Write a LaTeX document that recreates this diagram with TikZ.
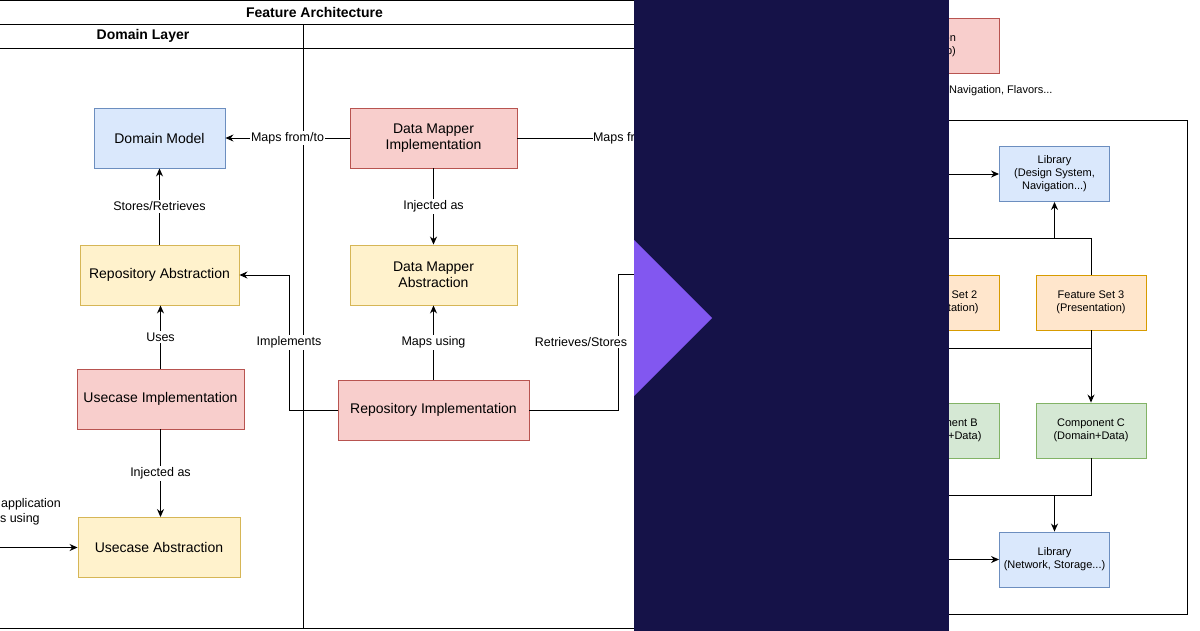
\documentclass[tikz,border=0pt]{standalone}
\usepackage{fontspec}
\setmainfont{Liberation Sans}
\usetikzlibrary{arrows.meta}
\definecolor{bfill}{HTML}{DAE8FC}\definecolor{bdraw}{HTML}{6C8EBF}
\definecolor{rfill}{HTML}{F8CECC}\definecolor{rdraw}{HTML}{B85450}
\definecolor{yfill}{HTML}{FFF2CC}\definecolor{ydraw}{HTML}{D6B656}
\definecolor{ofill}{HTML}{FFE6CC}\definecolor{odraw}{HTML}{D79B00}
\definecolor{gfill}{HTML}{D5E8D4}\definecolor{gdraw}{HTML}{82B366}
\definecolor{navy}{HTML}{151248}
\definecolor{violet}{HTML}{8257F0}
\tikzset{
  box/.style={draw, line width=0.9pt, inner sep=0pt, align=center, font=\fontsize{14}{16}\selectfont},
  sbox/.style={draw, line width=0.9pt, inner sep=0pt, align=center, minimum width=110pt, minimum height=55pt, font=\fontsize{11}{13}\selectfont},
  bluebox/.style={fill=bfill, draw=bdraw},
  redbox/.style={fill=rfill, draw=rdraw},
  yelbox/.style={fill=yfill, draw=ydraw},
  orabox/.style={fill=ofill, draw=odraw},
  grnbox/.style={fill=gfill, draw=gdraw},
  lbl/.style={fill=white, inner sep=1.5pt, font=\fontsize{12.5}{15}\selectfont},
  conn/.style={line width=1pt},
  arr/.style={line width=1pt, -{Stealth[length=8pt,width=7pt]}},
  frame/.style={line width=1pt},
  hdr/.style={font=\bfseries\fontsize{14}{16}\selectfont},
}
\begin{document}
\begin{tikzpicture}[x=1pt,y=-1pt]
\useasboundingbox (0,0) rectangle (1200,630);
\fill[white] (0,0) rectangle (1200,630);

% ---------- left panel ----------
\draw[frame] (0,0.5) -- (634,0.5);
\draw[frame] (0,24) -- (634,24);
\draw[frame] (0,48) -- (634,48);
\draw[frame] (303,24) -- (303,628);
\draw[frame] (0,628) -- (634,628);
\node[hdr] (title) at (314.5,12) {Feature Architecture};
\node[hdr] (lane) at (143,36) {Domain Layer};

\node[box,bluebox,minimum width=131pt,minimum height=60pt] (dm) at (159.5,138) {Domain Model};
\node[box,redbox,minimum width=167pt,minimum height=60pt] (dmi) at (433.5,138) {Data Mapper\\Implementation};
\node[box,yelbox,minimum width=159pt,minimum height=60pt] (ra) at (159.5,275) {Repository Abstraction};
\node[box,yelbox,minimum width=167pt,minimum height=60pt] (dma) at (433.5,275) {Data Mapper\\Abstraction};
\node[box,redbox,minimum width=167pt,minimum height=60pt] (ui) at (160.5,399) {Usecase Implementation};
\node[box,redbox,minimum width=191pt,minimum height=60pt] (ri) at (433.5,410) {Repository Implementation};
\node[box,yelbox,minimum width=162pt,minimum height=60pt] (ua) at (159,547.5) {Usecase Abstraction};

\draw[arr] (dmi.west) -- node[lbl] (l1) {Maps from/to} (dm.east);
\coordinate (mapsout) at (640,138);
\draw[conn] (dmi.east) -- (mapsout);
\node[lbl,anchor=west,inner sep=0pt,outer sep=0pt] (l2) at (593,138) {Maps from/to};
\draw[arr] (dmi.south) -- node[lbl] (l3) {Injected as} (dma.north);
\draw[arr] (ri.north) -- node[lbl] (l4) {Maps using} (dma.south);
\coordinate (impl) at (289,410);
\draw[arr] (ri.west) -- (impl) |- node[lbl,pos=0.25] (l5) {Implements} (ra.east);
\coordinate (rs1) at (618,410);
\coordinate (rs2) at (618,274);
\coordinate (rs3) at (640,274);
\draw[conn] (ri.east) -- (rs1) -- (rs2) -- (rs3);
\node[lbl] (l6) at (581,342) {Retrieves/Stores};
\draw[arr] (ra.north) -- node[lbl] (l7) {Stores/Retrieves} (ra.north |- dm.south);
\draw[arr] (ui.north) -- node[lbl] (l8) {Uses} (ui.north |- ra.south);
\draw[arr] (ui.south) -- node[lbl] (l9) {Injected as} (ui.south |- ua.north);
\coordinate (appin) at (-5,547.5);
\draw[arr] (appin) -- (ua.west);
\node[align=center,font=\fontsize{12.5}{15}\selectfont] (l10) at (18.5,511.5) {The application\\is using};

% ---------- right panel ----------
\node[sbox,redbox,minimum width=140pt] (app) at (929,45.5) {Application\\(Main App)};
\node[anchor=east,font=\fontsize{11}{13}\selectfont] (note) at (1056,91) {DI, Root Navigation, Flavors...};
\draw[frame] (850,120) -- (1187,120) -- (1187,614) -- (850,614);

\node[sbox,bluebox] (lib1) at (1054.5,174) {Library\\(Design System,\\Navigation...)};
\node[sbox,orabox] (fs2) at (944,302.5) {Feature Set 2\\(Presentation)};
\node[sbox,orabox] (fs3) at (1091,302.5) {Feature Set 3\\(Presentation)};
\node[sbox,grnbox] (cb) at (944,430.5) {Component B\\(Domain+Data)};
\node[sbox,grnbox] (cc) at (1091,430.5) {Component C\\(Domain+Data)};
\node[sbox,bluebox] (lib2) at (1054.5,559.5) {Library\\(Network, Storage...)};

\coordinate (in1) at (930,174);
\draw[arr] (in1) -- (lib1.west);
\coordinate (b1) at (930,238);
\coordinate (j1) at (1054.5,238);
\draw[conn] (fs3.north) |- (b1);
\draw[arr] (j1) -- (lib1.south);
\coordinate (b2) at (930,348);
\coordinate (j2) at (1091,348);
\draw[conn] (b2) -- (j2);
\draw[arr] (fs3.south) -- (cc.north);
\coordinate (b3) at (930,495);
\coordinate (j3) at (1054.5,495);
\draw[conn] (cc.south) |- (b3);
\draw[arr] (j3) -- (lib2.north);
\coordinate (in2) at (930,559.5);
\draw[arr] (in2) -- (lib2.west);

% ---------- dark band ----------
\fill[navy] (634,-1) rectangle (949,631);
\fill[violet] (634,240) -- (712,318) -- (634,396) -- cycle;
\end{tikzpicture}
\end{document}
